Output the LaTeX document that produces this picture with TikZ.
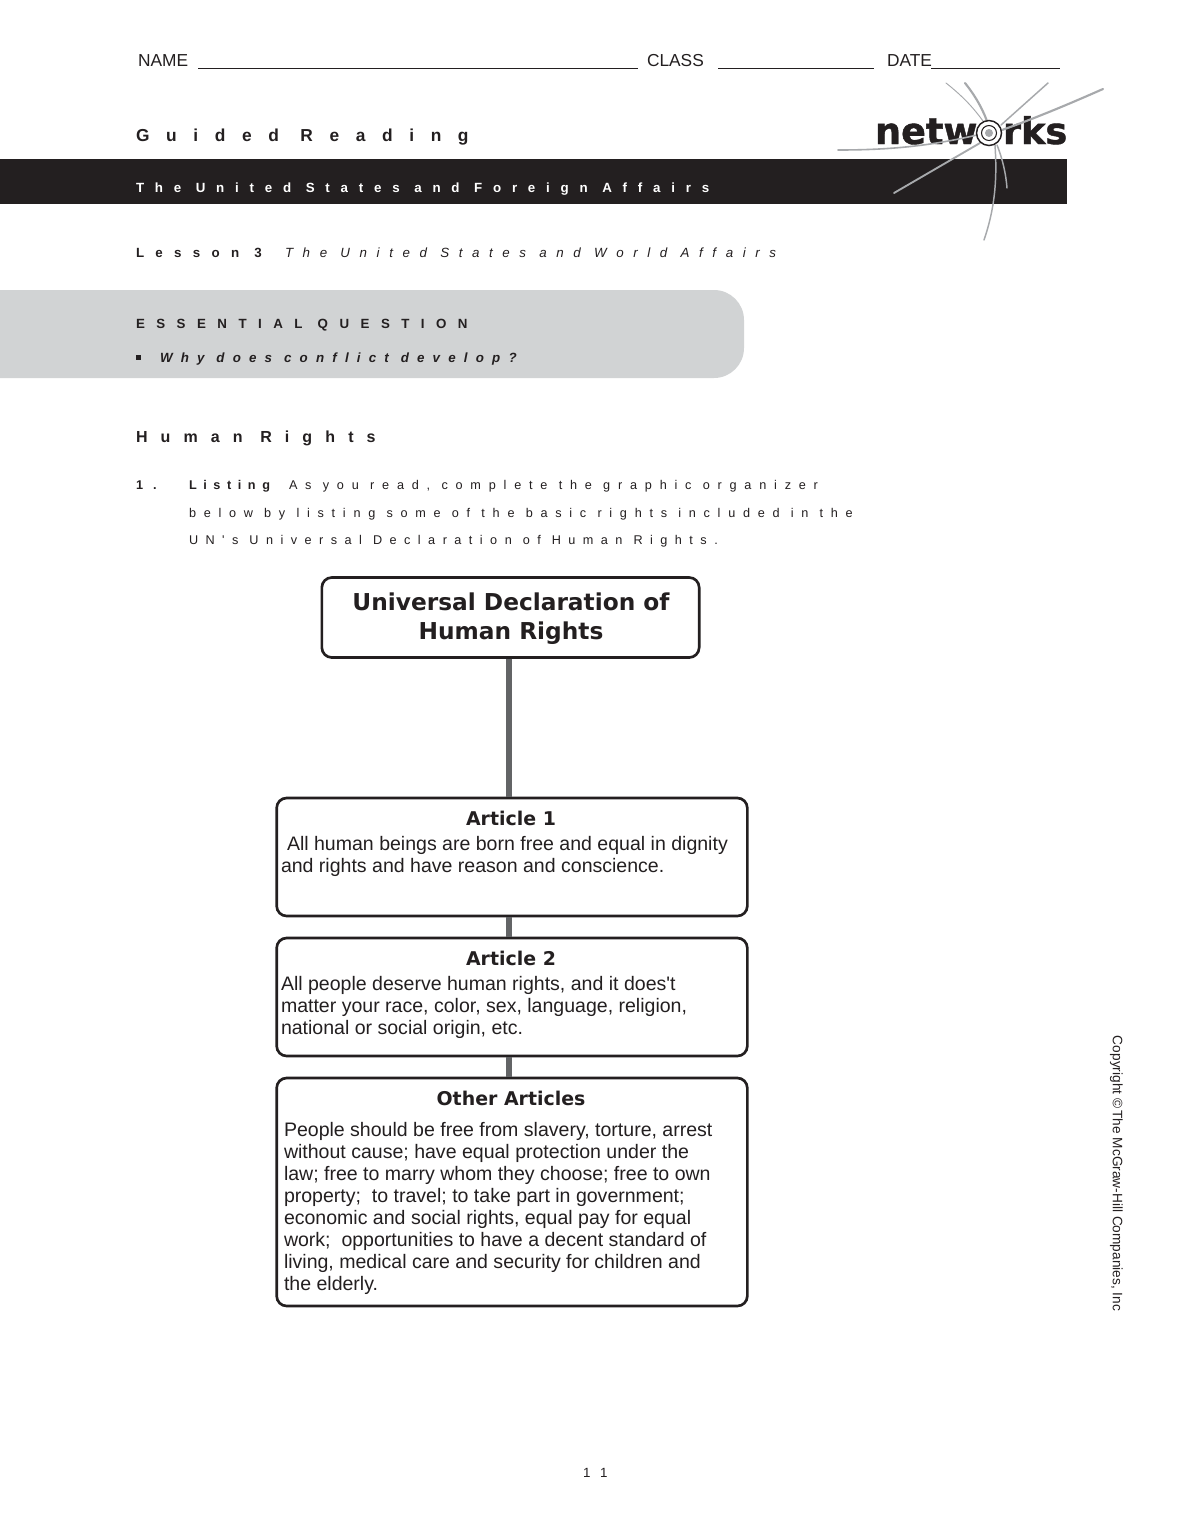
\documentclass[tikz,border=0pt]{standalone}
\usepackage{fontspec}
\setmainfont{Liberation Sans}
\newfontfamily\plainfont{Liberation Sans}
\newfontfamily\titlefont{DejaVu Sans}
\newfontfamily\logofont[FakeBold=1.2]{DejaVu Sans Bold}
\definecolor{ink}{HTML}{231F20}
\definecolor{panel}{HTML}{D1D3D4}
\definecolor{link}{HTML}{636466}
\definecolor{ray}{HTML}{A7A9AC}
\newcommand{\ls}[1]{\addfontfeature{LetterSpace=#1}}
\tikzset{
  lbl/.style={anchor=base west,inner sep=0pt,outer sep=0pt,text=ink},
  para/.style={anchor=north west,inner sep=0pt,outer sep=0pt,text=ink,align=left,font=\plainfont\fontsize{14.65pt}{16.5pt}\selectfont},
  boxtitle/.style={anchor=base,inner sep=0pt,outer sep=0pt,text=ink,font=\titlefont\bfseries\fontsize{14.2pt}{17pt}\selectfont},
  frame/.style={draw=ink,line width=2pt,rounded corners=7.5pt,fill=white,minimum width=#1,inner sep=0pt},
  wire/.style={draw=link,line width=4.6pt},
  rule/.style={draw=ink,line width=0.75pt},
  rayline/.style={draw=ray,line width=#1,line cap=round},
}
\begin{document}
\begin{tikzpicture}[x=0.75pt,y=-0.75pt]
\useasboundingbox (0,0) rectangle (1200,1536);
\fill[white] (0,0) rectangle (1200,1536);
% header form line
\node[lbl,font=\fontsize{13pt}{15pt}\selectfont] (name) at (138,66) {NAME};
\node[lbl,font=\fontsize{13pt}{15pt}\selectfont] (class) at (647,66) {CLASS};
\node[lbl,font=\fontsize{13pt}{15pt}\selectfont] (date) at (887,66) {DATE};
\draw[rule] (198,68) -- (638,68);
\draw[rule] (718,68) -- (874,68);
\draw[rule] (931,68) -- (1060,68);
% band
\fill[ink] (0,159) rectangle (1067,204);
% logo
\node[lbl,font=\logofont\fontsize{27.5pt}{30pt}\selectfont,text=ink] (lognet) at (875,144) {netw};
\node[lbl,font=\logofont\fontsize{27.5pt}{30pt}\selectfont,text=ink] (logrks) at (1003,144) {rks};
\draw[rayline=0.7pt] (946,83) .. controls (965,98) and (975,110) .. (983,121);
\draw[rayline=1.6pt] (965,83) .. controls (977,98) and (984,112) .. (988,124);
\draw[rayline=1.1pt] (1048,83) -- (1001,125);
\draw[rayline=1.6pt] (1103,89) .. controls (1060,108) and (1030,120) .. (1002,130);
\draw[rayline=1.2pt] (838,150) .. controls (890,150) and (930,146) .. (977,135);
\draw[rayline=1.4pt] (894,193) -- (980,143);
\draw[rayline=1.1pt] (995,145) .. controls (997,175) and (996,205) .. (984,240);
\draw[rayline=1.1pt] (997,145) .. controls (1003,160) and (1006,175) .. (1007,188);
\draw[ink,line width=1.1pt,fill=white] (989,133) circle[radius=12.5];
\draw[ink,line width=0.8pt,fill=white] (989,133) circle[radius=7.5];
\fill[ray] (989,133) circle[radius=4];
% headings
\node[lbl,font=\bfseries\fontsize{13pt}{15pt}\selectfont\ls{96}] (guided) at (136,141) {Guided Reading};
\node[lbl,text=white,font=\bfseries\fontsize{10pt}{12pt}\selectfont\ls{81}] (unit) at (136,192) {The United States and Foreign Affairs};
\node[lbl,font=\bfseries\fontsize{10pt}{12pt}\selectfont\ls{85}] (lesson) at (136,257) {Lesson 3};
\node[lbl,font=\itshape\fontsize{10pt}{12pt}\selectfont\ls{72}] (lessont) at (285,257) {The United States and World Affairs};
% panel
\fill[panel] (0,378) -- (0,290) [rounded corners=22.5pt] -- (744,290) -- (744,378) [sharp corners] -- cycle;
\node[lbl,font=\bfseries\fontsize{10pt}{12pt}\selectfont\ls{86}] (eq) at (136,328) {ESSENTIAL QUESTION};
\fill[ink] (136,355) rectangle (141,360);
\node[lbl,font=\bfseries\itshape\fontsize{10pt}{12pt}\selectfont\ls{61.5}] (why) at (160,362) {Why does conflict develop?};
% section
\node[lbl,font=\bfseries\fontsize{12pt}{14pt}\selectfont\ls{82}] (hr) at (136,442) {Human Rights};
\node[lbl,font=\bfseries\fontsize{9.5pt}{12pt}\selectfont\ls{80}] (num) at (136,489) {1.};
\node[lbl,font=\bfseries\fontsize{9.5pt}{12pt}\selectfont\ls{52}] (listing) at (189,489) {Listing};
\node[lbl,font=\fontsize{9.5pt}{12pt}\selectfont\ls{61.5}] (l1) at (289,489) {As you read, complete the graphic organizer};
\node[lbl,font=\fontsize{9.5pt}{12pt}\selectfont\ls{61}] (l2) at (189,517) {below by listing some of the basic rights included in the};
\node[lbl,font=\plainfont\fontsize{9.5pt}{12pt}\selectfont\ls{59}] (l3) at (189,544) {UN's Universal Declaration of Human Rights.};
% organizer
\coordinate (axis) at (509,0);
\node[frame=283pt,minimum height=60pt] (top) at (510.5,617.5) {};
\node[frame=353pt,minimum height=88.5pt] (a1) at (512,857) {};
\node[frame=353pt,minimum height=88.5pt] (a2) at (512,997) {};
\node[frame=353pt,minimum height=171pt] (a3) at (512,1192) {};
\draw[wire] (top.south -| axis) -- (a1.north -| axis);
\draw[wire] (a1.south -| axis) -- (a2.north -| axis);
\draw[wire] (a2.south -| axis) -- (a3.north -| axis);
\node[boxtitle,font=\titlefont\bfseries\fontsize{17.45pt}{21.5pt}\selectfont,align=center,anchor=north] (toptext) at (511,593) {Universal Declaration of\\Human Rights};
\node[boxtitle] (t1) at (511,825) {Article 1};
\node[boxtitle] (t2) at (511,965) {Article 2};
\node[boxtitle] (t3) at (511,1105) {Other Articles};
\node[para] (p1) at (281,836) {\hspace*{4.5pt}All human beings are born free and equal in dignity\\and rights and have reason and conscience.};
\node[para] (p2) at (281,976) {All people deserve human rights, and it does't\\matter your race, color, sex, language, religion,\\national or social origin, etc.};
\node[para] (p3) at (284,1122) {People should be free from slavery, torture, arrest\\without cause; have equal protection under the\\law; free to marry whom they choose; free to own\\property;\ \ to travel; to take part in government;\\economic and social rights, equal pay for equal\\work;\ \ opportunities to have a decent standard of\\living, medical care and security for children and\\the elderly.};
% margin
\node[anchor=north,rotate=-90,inner sep=0pt,text=ink,font=\fontsize{10.25pt}{12pt}\selectfont] (copy) at (1123,1173.5) {Copyright ©\,The McGraw-Hill Companies, Inc};
\node[lbl,font=\fontsize{10pt}{12pt}\selectfont\ls{80}] (page) at (583,1477) {11};
\end{tikzpicture}
\end{document}
